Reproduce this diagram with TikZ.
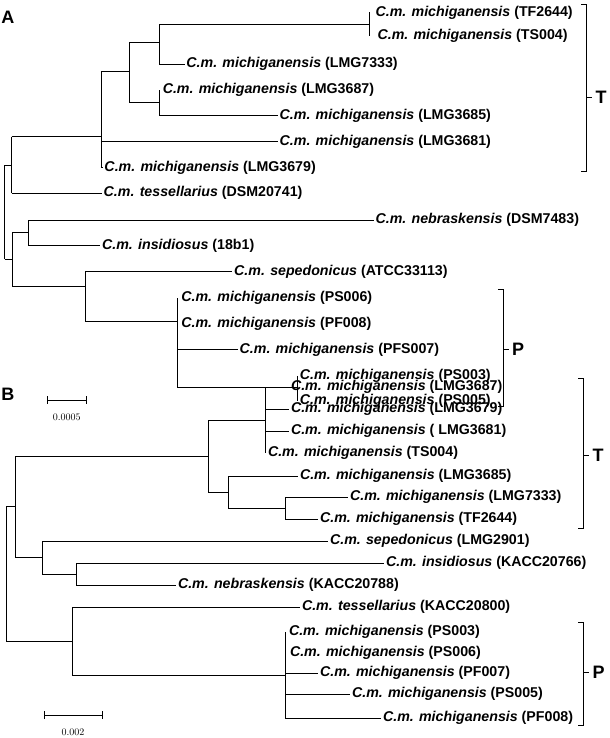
\documentclass[tikz,border=0pt]{standalone}
\usepackage{fontspec}
\setmainfont{Liberation Sans}
\begin{document}
\begin{tikzpicture}[x=0.3883pt,y=-0.3883pt,line width=0.9pt,
  lf/.style={anchor=west,inner sep=1.5pt,font=\fontsize{14.2}{16}\selectfont\bfseries},
  grp/.style={anchor=west,inner sep=1pt,font=\fontsize{18}{20}\selectfont\bfseries},
  brk/.style={line width=0.6pt}]
\useasboundingbox (0,0) rectangle (1568,1900);
\newcommand{\spn}[2]{\textit{C.m. #1} (#2)}
% ---------- Tree A ----------
\node[grp] (A) at (0,45) {A};
\draw (12,425) -- (12,668);
\draw (12,425) -- (30,425); \draw (12,668) -- (33,668);
\draw (30,352) -- (30,497);
\draw (30,352) -- (260,352);
\node[lf] (tes) at (262,497) {\spn{tessellarius}{DSM20741}}; \draw (30,497) -- (tes.west);
\draw (260,185) -- (260,432);
\draw (260,185) -- (333,185);
\node[lf] (a81) at (715,365) {\spn{michiganensis}{LMG3681}}; \draw (260,365) -- (a81.west);
\node[lf] (a79) at (264,432) {\spn{michiganensis}{LMG3679}}; \draw (260,432) -- (a79.west);
\draw (333,110) -- (333,265);
\draw (333,110) -- (410,110); \draw (333,265) -- (410,265);
\draw (410,62) -- (410,165);
\draw (410,62) -- (950,62);
\node[lf] (a33) at (475,165) {\spn{michiganensis}{LMG7333}}; \draw (410,165) -- (a33.west);
\draw (950,32) -- (950,92);
\node[lf] (atf) at (962,32) {\spn{michiganensis}{TF2644}};
\node[lf] (ats) at (967,92) {\spn{michiganensis}{TS004}};
\draw (410,232) -- (410,298);
\node[lf] (a87) at (414,232) {\spn{michiganensis}{LMG3687}};
\node[lf] (a85) at (715,298) {\spn{michiganensis}{LMG3685}}; \draw (410,298) -- (a85.west);
\draw (33,598) -- (33,738);
\draw (33,598) -- (73,598); \draw (33,738) -- (220,738);
\draw (73,567) -- (73,633);
\node[lf] (neb) at (962,567) {\spn{nebraskensis}{DSM7483}}; \draw (73,567) -- (neb.west);
\node[lf] (ins) at (258,633) {\spn{insidiosus}{18b1}}; \draw (73,633) -- (ins.west);
\draw (220,699) -- (220,828);
\node[lf] (sep) at (598,699) {\spn{sepedonicus}{ATCC33113}}; \draw (220,699) -- (sep.west);
\draw (220,828) -- (458,828);
\draw (458,768) -- (458,998);
\node[lf] (p06) at (462,768) {\spn{michiganensis}{PS006}};
\node[lf] (p08) at (462,833) {\spn{michiganensis}{PF008}};
\node[lf] (p07) at (612,900) {\spn{michiganensis}{PFS007}}; \draw (458,900) -- (p07.west);
\draw (458,998) -- (765,998);
\draw (765,968) -- (765,1032);
\node[lf] (p03) at (767,968) {\spn{michiganensis}{PS003}};
\node[lf] (p05) at (767,1032) {\spn{michiganensis}{PS005}};
\draw[brk] (122,1030) -- (222,1030); \draw[brk] (122,1020) -- (122,1040); \draw[brk] (222,1020) -- (222,1040);
\node[font=\fontfamily{lmr}\fontsize{10}{11}\selectfont] (sa) at (172,1075) {0.0005};
\draw[brk] (1497,12) -- (1510,12) -- (1510,440) -- (1497,440); \draw[brk] (1510,250) -- (1525,250);
\node[grp] (T1) at (1530,250) {T};
\draw[brk] (1282,745) -- (1295,745) -- (1295,1045) -- (1282,1045); \draw[brk] (1295,900) -- (1310,900);
\node[grp] (P1) at (1315,900) {P};
% ---------- Tree B (pixel units) ----------
\begin{scope}[x=1pt,y=-1pt]
\node[grp] (B) at (0,394) {B};
\draw (6,506) -- (6,641);
\draw (6,506) -- (15,506); \draw (6,641) -- (72,641);
\draw (15,456) -- (15,557);
\draw (15,456) -- (208,456); \draw (15,557) -- (42,557);
\draw (208,420) -- (208,492);
\draw (208,420) -- (265,420); \draw (208,492) -- (228,492);
\draw (265,387) -- (265,453);
\node[lf] (b87) at (289,387) {\spn{michiganensis}{LMG3687}}; \draw (265,387) -- (b87.west);
\node[lf] (b79) at (289,409) {\spn{michiganensis}{LMG3679}}; \draw (265,409) -- (b79.west);
\node[lf] (b81) at (289,431) {\spn{michiganensis}{ LMG3681}}; \draw (265,431) -- (b81.west);
\node[lf] (bts) at (266,453) {\spn{michiganensis}{TS004}};
\draw (228,476) -- (228,508);
\node[lf] (b85) at (298,476) {\spn{michiganensis}{LMG3685}}; \draw (228,476) -- (b85.west);
\draw (228,508) -- (285,508);
\draw (285,497) -- (285,519);
\node[lf] (b33) at (348,497) {\spn{michiganensis}{LMG7333}}; \draw (285,497) -- (b33.west);
\node[lf] (btf) at (318,519) {\spn{michiganensis}{TF2644}}; \draw (285,519) -- (btf.west);
\draw (42,541) -- (42,574);
\node[lf] (bsep) at (328,541) {\spn{sepedonicus}{LMG2901}}; \draw (42,541) -- (bsep.west);
\draw (42,574) -- (76,574);
\draw (76,563) -- (76,585);
\node[lf] (bins) at (384,563) {\spn{insidiosus}{KACC20766}}; \draw (76,563) -- (bins.west);
\node[lf] (bneb) at (176,585) {\spn{nebraskensis}{KACC20788}}; \draw (76,585) -- (bneb.west);
\draw (72,607) -- (72,675);
\node[lf] (btes) at (300,607) {\spn{tessellarius}{KACC20800}}; \draw (72,607) -- (btes.west);
\draw (72,675) -- (285,675);
\draw (285,632) -- (285,718);
\node[lf] (q03) at (287,632) {\spn{michiganensis}{PS003}};
\node[lf] (q06) at (288,653) {\spn{michiganensis}{PS006}};
\node[lf] (q07) at (318,673) {\spn{michiganensis}{PF007}}; \draw (285,673) -- (q07.west);
\node[lf] (q05) at (350,694) {\spn{michiganensis}{PS005}}; \draw (285,694) -- (q05.west);
\node[lf] (q08) at (381,718) {\spn{michiganensis}{PF008}}; \draw (285,718) -- (q08.west);
\draw[brk] (44,715) -- (102,715); \draw[brk] (44,711) -- (44,719); \draw[brk] (102,711) -- (102,719);
\node[font=\fontfamily{lmr}\fontsize{10}{11}\selectfont] (sb) at (73,732) {0.002};
\draw[brk] (578,378) -- (583,378) -- (583,528) -- (578,528); \draw[brk] (583,455) -- (589,455);
\node[grp] (T2) at (591,455) {T};
\draw[brk] (578,622) -- (583,622) -- (583,725) -- (578,725); \draw[brk] (583,672) -- (589,672);
\node[grp] (P2) at (591,672) {P};
\end{scope}
\end{tikzpicture}
\end{document}
